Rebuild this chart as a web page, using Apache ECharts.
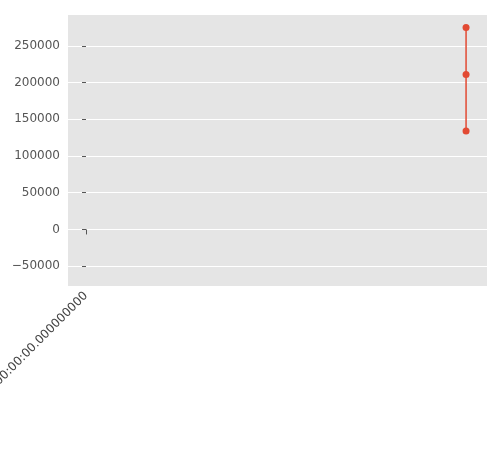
<!DOCTYPE html>
<html>
<head>
<meta charset="utf-8">
<script src="https://cdn.jsdelivr.net/npm/echarts@6/dist/echarts.min.js"></script>
<style>html,body{margin:0;padding:0;background:#fff}#container{width:494px;height:460px}</style>
</head>
<body>
<div id="container"></div>
<script>
var tickLabels = ['2020-03-28T00:00:00.000000000'];
var xValues = [1, 1, 1];
var yValues = [275000, 211000, 134000];
var yTicks = [-50000, 0, 50000, 100000, 150000, 200000, 250000];

var myChart = echarts.init(document.getElementById('container'), null, { renderer: 'canvas' });

myChart.setOption({
    backgroundColor: '#fff',
    grid: {
        left: 68, right: 7, top: 15, bottom: 174,
        outerBoundsMode: 'none', containLabel: false,
        show: true, backgroundColor: '#E5E5E5', borderWidth: 0
    },
    xAxis: {
        type: 'value',
        min: -0.0474,
        max: 1.0551,
        name: 'date',
        nameLocation: 'middle',
        nameGap: 178,
        nameTextStyle: { color: '#555', fontSize: 13 },
        axisLine: { show: false },
        splitLine: { show: false },
        axisTick: { show: true, customValues: [0], length: 5, lineStyle: { color: '#555' } },
        axisLabel: {
            customValues: [0],
            rotate: 45,
            color: '#444',
            fontSize: 12,
            fontFamily: 'DejaVu Sans',
            formatter: function (v) { return Math.abs(v) < 1e-9 ? tickLabels[0] : ''; }
        }
    },
    yAxis: {
        type: 'value',
        min: -77000,
        max: 292000,
        axisLine: { show: false },
        axisTick: { show: true, customValues: yTicks, length: 4, lineStyle: { color: '#555' } },
        splitLine: { show: true, lineStyle: { color: '#fff', width: 1 } },
        axisLabel: {
            customValues: yTicks,
            color: '#555',
            fontSize: 12,
            fontFamily: 'DejaVu Sans',
            formatter: function (v) { return v < 0 ? '\u2212' + (-v) : String(v); }
        }
    },
    series: [{
        type: 'line',
        data: xValues.map(function (x, i) { return [x, yValues[i]]; }),
        symbol: 'circle',
        symbolSize: 7,
        itemStyle: { color: '#E24A33' },
        lineStyle: { color: '#E24A33', width: 1.5 }
    }]
});
</script>
</body>
</html>
